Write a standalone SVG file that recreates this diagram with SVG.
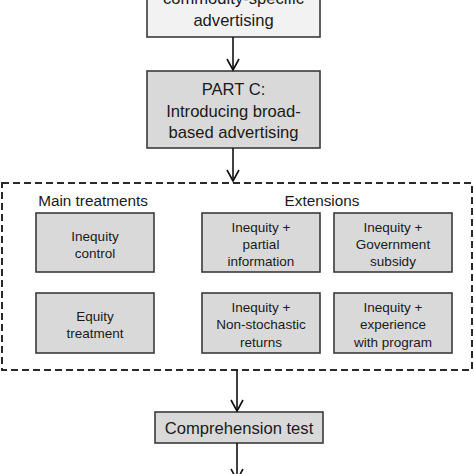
<svg xmlns="http://www.w3.org/2000/svg" width="474" height="474" viewBox="0 0 474 474">
<style>
.box{fill:#d9d9d9;stroke:#3a3a3a;stroke-width:1.6}
.light{fill:#f2f2f2;stroke:#3a3a3a;stroke-width:1.6}
.t{font-family:"Liberation Sans",Arial,sans-serif;fill:#1a1a1a;text-anchor:middle}
.big{font-size:16.6px}
.sm{font-size:13.5px}
.hd{font-size:15.3px}
.conn line{stroke:#111;stroke-width:1.6}
.dash{fill:none;stroke:#2a2a2a;stroke-width:2;stroke-dasharray:7 4}
</style>
<defs>
<marker id="arr" markerWidth="14" markerHeight="14" refX="12" refY="7" orient="auto" markerUnits="userSpaceOnUse">
<path d="M1,1 L12,7 L1,13" fill="none" stroke="#111" stroke-width="1.6"/>
</marker>
</defs>
<rect width="474" height="474" fill="#fff"/>
<g id="partB">
<rect class="light" x="147" y="-10" width="173" height="47"/>
<text class="t big" x="233.5" y="4">commodity-specific</text>
<text class="t big" x="233.5" y="26">advertising</text>
</g>
<g id="partC">
<rect class="box" x="147" y="71" width="173" height="77"/>
<text class="t big" x="233.5" y="95">PART C:</text>
<text class="t big" x="233.5" y="117">Introducing broad-</text>
<text class="t big" x="233.5" y="138">based advertising</text>
</g>
<g id="treatments">
<rect class="dash" x="2" y="183" width="470" height="187"/>
<text class="t hd" x="93" y="206">Main treatments</text>
<text class="t hd" x="322" y="206">Extensions</text>
</g>
<g id="inequityControl">
<rect class="box" x="36" y="213" width="118" height="59"/>
<text class="t sm" x="95" y="241">Inequity</text>
<text class="t sm" x="95" y="258">control</text>
</g>
<g id="partialInfo">
<rect class="box" x="202" y="213" width="118" height="59"/>
<text class="t sm" x="261" y="232">Inequity +</text>
<text class="t sm" x="261" y="249">partial</text>
<text class="t sm" x="261" y="266">information</text>
</g>
<g id="govSubsidy">
<rect class="box" x="334" y="213" width="118" height="59"/>
<text class="t sm" x="393" y="232">Inequity +</text>
<text class="t sm" x="393" y="249">Government</text>
<text class="t sm" x="393" y="266">subsidy</text>
</g>
<g id="equityTreatment">
<rect class="box" x="36" y="293" width="118" height="60"/>
<text class="t sm" x="95" y="321">Equity</text>
<text class="t sm" x="95" y="338">treatment</text>
</g>
<g id="nonStochastic">
<rect class="box" x="202" y="293" width="118" height="60"/>
<text class="t sm" x="261" y="312">Inequity +</text>
<text class="t sm" x="261" y="329">Non-stochastic</text>
<text class="t sm" x="261" y="347">returns</text>
</g>
<g id="experience">
<rect class="box" x="334" y="293" width="118" height="60"/>
<text class="t sm" x="393" y="312">Inequity +</text>
<text class="t sm" x="393" y="329">experience</text>
<text class="t sm" x="393" y="347">with program</text>
</g>
<g id="comprehension">
<rect class="box" x="155" y="412" width="168" height="31"/>
<text class="t big" x="239" y="434">Comprehension test</text>
</g>
<g class="conn">
<line x1="233" y1="37" x2="233" y2="70" marker-end="url(#arr)"/>
<line x1="233" y1="148" x2="233" y2="181" marker-end="url(#arr)"/>
<line x1="237" y1="370" x2="237" y2="411" marker-end="url(#arr)"/>
<line x1="237" y1="443" x2="237" y2="480" marker-end="url(#arr)"/>
</g>
</svg>
